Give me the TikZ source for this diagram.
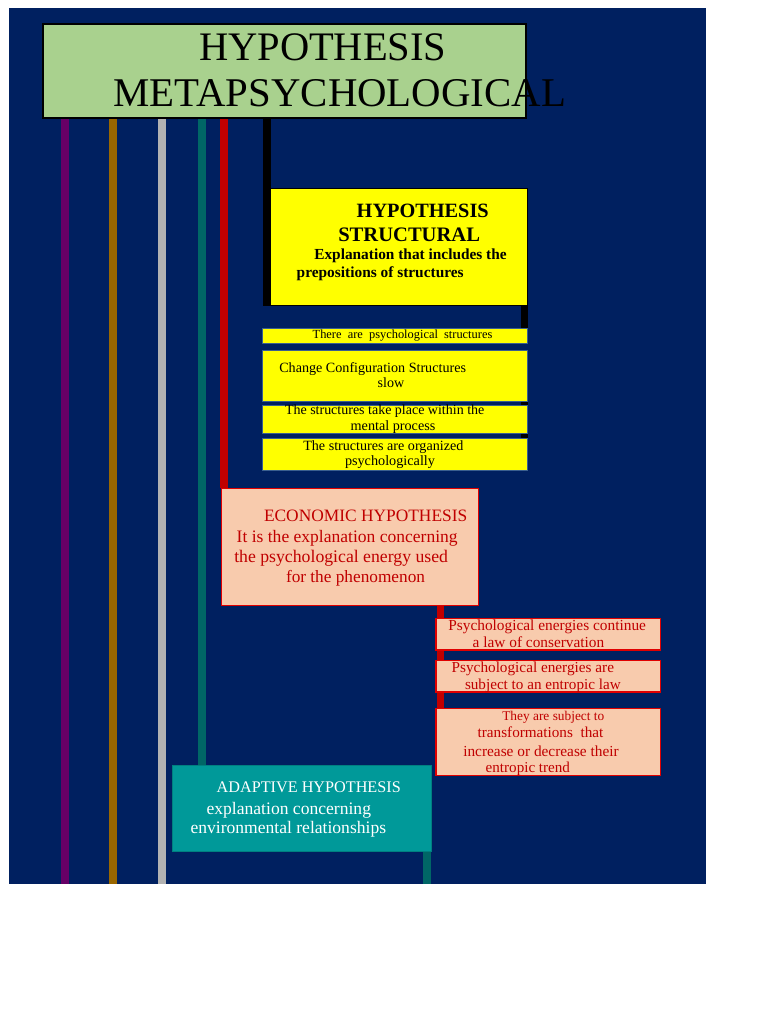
\documentclass[tikz,border=0pt]{standalone}
\usepackage{fontspec}
\setmainfont{Liberation Serif}
\usepackage{graphicx}
\definecolor{navy}{HTML}{002060}
\definecolor{titlegreen}{HTML}{A9D18E}
\definecolor{pureyellow}{HTML}{FFFF00}
\definecolor{peach}{HTML}{F8CBAD}
\definecolor{darkred}{HTML}{C00000}
\definecolor{boxred}{HTML}{E00000}
\definecolor{tealfill}{HTML}{009999}
\definecolor{tealborder}{HTML}{008080}
\definecolor{lpurple}{HTML}{660066}
\definecolor{lbrown}{HTML}{996600}
\definecolor{lgray}{HTML}{B2B2B2}
\definecolor{lteal}{HTML}{006666}
\definecolor{smallborder}{HTML}{3A5F8F}
\newcommand\tln[5]{\node[txt,#1] (#2) at #3 {\resizebox{#4pt}{!}{#5}};}
\begin{document}
\begin{tikzpicture}[x=1pt,y=-1pt,
  txt/.style={anchor=base west, inner sep=0pt, outer sep=0pt},
  boxbase/.style={anchor=north west, inner sep=0pt, outer sep=0pt, rectangle},
  titlebox/.style={boxbase, fill=titlegreen, draw=black, line width=1.5pt},
  structbox/.style={boxbase, fill=pureyellow, draw=black, line width=1pt},
  smallbox/.style={boxbase, fill=pureyellow, draw=smallborder, line width=1pt},
  econbox/.style={boxbase, fill=peach, draw=boxred, line width=1.2pt},
  adaptbox/.style={boxbase, fill=tealfill, draw=tealborder, line width=1pt},
  vline/.style={line width=8pt},
]
\useasboundingbox (0,0) rectangle (768,1024);
\fill[white] (0,0) rectangle (768,1024);
\fill[navy] (9,8) rectangle (706,884);

% boxes (placed first so connectors can reference them; redrawn on top below)
\node[titlebox, minimum width=483pt, minimum height=94pt] (title) at (43,24) {};
\node[structbox, minimum width=257pt, minimum height=116.7pt] (struct) at (270.7,189) {};
\node[smallbox, minimum width=265.4pt, minimum height=15pt] (s1) at (262.3,328.3) {};
\node[smallbox, minimum width=265.4pt, minimum height=50.3pt] (s2) at (262.3,350.7) {};
\node[smallbox, minimum width=265.4pt, minimum height=28pt] (s3) at (262.3,405) {};
\node[smallbox, minimum width=265.4pt, minimum height=32pt] (s4) at (262.3,438) {};
\node[econbox, minimum width=257pt, minimum height=117pt] (econ) at (221.7,488.3) {};
\node[econbox, minimum width=224.3pt, minimum height=31.7pt] (e1) at (436,618.3) {};
\node[econbox, minimum width=224.3pt, minimum height=31.7pt] (e2) at (436,660.3) {};
\node[econbox, minimum width=224.3pt, minimum height=66.6pt] (e3) at (436,708.7) {};
\node[adaptbox, minimum width=259.6pt, minimum height=86pt] (adapt) at (172,765) {};

% x positions of the connectors and free ends
\coordinate (xpurple) at (65,0);
\coordinate (xbrown) at (113,0);
\coordinate (xgray) at (162.3,0);
\coordinate (xteal) at (201.6,0);
\coordinate (xred) at (224,0);
\coordinate (xblack) at (266.5,0);
\coordinate (xblackr) at (524,0);
\coordinate (xredr) at (440,0);
\coordinate (xtealr) at (426.5,0);
\coordinate (bottom) at (0,884);

% connectors
\draw[vline, lpurple] (title.south -| xpurple) -- (bottom -| xpurple);
\draw[vline, lbrown] (title.south -| xbrown) -- (bottom -| xbrown);
\draw[vline, lgray] (title.south -| xgray) -- (bottom -| xgray);
\draw[vline, lteal] (title.south -| xteal) -- (adapt.north -| xteal);
\draw[vline, darkred] (title.south -| xred) -- (econ.north -| xred);
\draw[vline, black] (title.south -| xblack) -- (struct.south -| xblack);
\draw[line width=7pt, black] (struct.south -| xblackr) -- (s1.north -| xblackr);
\draw[line width=7pt, black] (s2.south -| xblackr) -- (s4.north -| xblackr);
\draw[line width=7pt, darkred] (econ.south -| xredr) -- (e3.north -| xredr);
\draw[vline, lteal] (adapt.south -| xtealr) -- (bottom -| xtealr);

% boxes on top of connectors
\node[titlebox, minimum width=483pt, minimum height=94pt] at (43,24) {};
\node[structbox, minimum width=257pt, minimum height=116.7pt] at (270.7,189) {};
\node[smallbox, minimum width=265.4pt, minimum height=15pt] at (262.3,328.3) {};
\node[smallbox, minimum width=265.4pt, minimum height=50.3pt] at (262.3,350.7) {};
\node[smallbox, minimum width=265.4pt, minimum height=28pt] at (262.3,405) {};
\node[smallbox, minimum width=265.4pt, minimum height=32pt] at (262.3,438) {};
\node[econbox, minimum width=257pt, minimum height=117pt] at (221.7,488.3) {};
\node[econbox, minimum width=224.3pt, minimum height=31.7pt] at (436,618.3) {};
\node[econbox, minimum width=224.3pt, minimum height=31.7pt] at (436,660.3) {};
\node[econbox, minimum width=224.3pt, minimum height=66.6pt] at (436,708.7) {};
\node[adaptbox, minimum width=259.6pt, minimum height=86pt] at (172,765) {};

% title text
\tln{text=black}{t1}{(199,60.7)}{247.5}{HYPOTHESIS}
\tln{text=black}{t2}{(113.6,106.7)}{452.4}{METAPSYCHOLOGICAL}

% structural
\tln{text=black}{st1}{(356.7,218)}{132}{\bfseries HYPOTHESIS}
\tln{text=black}{st2}{(338.3,241.7)}{141.7}{\bfseries STRUCTURAL}
\tln{text=black}{st3}{(314.3,259.3)}{192.4}{\bfseries Explanation that includes the}
\tln{text=black}{st4}{(296.7,277.3)}{167}{\bfseries prepositions of structures}

\tln{text=black}{a1}{(312.7,338.3)}{179.6}{There\ \ are\ \ psychological\ \ structures}
\tln{text=black}{b1}{(279.3,372.3)}{186.7}{Change Configuration Structures}
\tln{text=black}{b2}{(377.7,387.3)}{26.6}{slow}
\tln{text=black}{c1}{(285,414.3)}{199.3}{The structures take place within the}
\tln{text=black}{c2}{(350.7,430)}{84.6}{mental process}
\tln{text=black}{d1}{(303.3,450.7)}{160}{The structures are organized}
\tln{text=black}{d2}{(345,465)}{90}{psychologically}

% economic
\tln{text=darkred}{ec1}{(264,521.7)}{203.3}{ECONOMIC HYPOTHESIS}
\tln{text=darkred}{ec2}{(236.7,542.3)}{221}{It is the explanation concerning}
\tln{text=darkred}{ec3}{(234.3,562.7)}{213.7}{the psychological energy used}
\tln{text=darkred}{ec4}{(286,582.7)}{139}{for the phenomenon}

\tln{text=darkred}{f1}{(448.3,630)}{197.7}{Psychological energies continue}
\tln{text=darkred}{f2}{(472.7,647.7)}{131.6}{a law of conservation}
\tln{text=darkred}{g1}{(451.7,672.3)}{162.3}{Psychological energies are}
\tln{text=darkred}{g2}{(465,689)}{155.7}{subject to an entropic law}
\tln{text=darkred}{h1}{(502.3,720)}{102}{They are subject to}
\tln{text=darkred}{h2}{(477.7,737.7)}{125.6}{transformations\ \ that}
\tln{text=darkred}{h3}{(463.3,756)}{155.4}{increase or decrease their}
\tln{text=darkred}{h4}{(485.7,772.7)}{84.3}{entropic trend}

% adaptive
\tln{text=white}{ad1}{(216.7,792.7)}{184.1}{ADAPTIVE HYPOTHESIS}
\tln{text=white}{ad2}{(206.6,814)}{164.4}{explanation concerning}
\tln{text=white}{ad3}{(190.5,833.3)}{195.6}{environmental relationships}
\end{tikzpicture}
\end{document}
